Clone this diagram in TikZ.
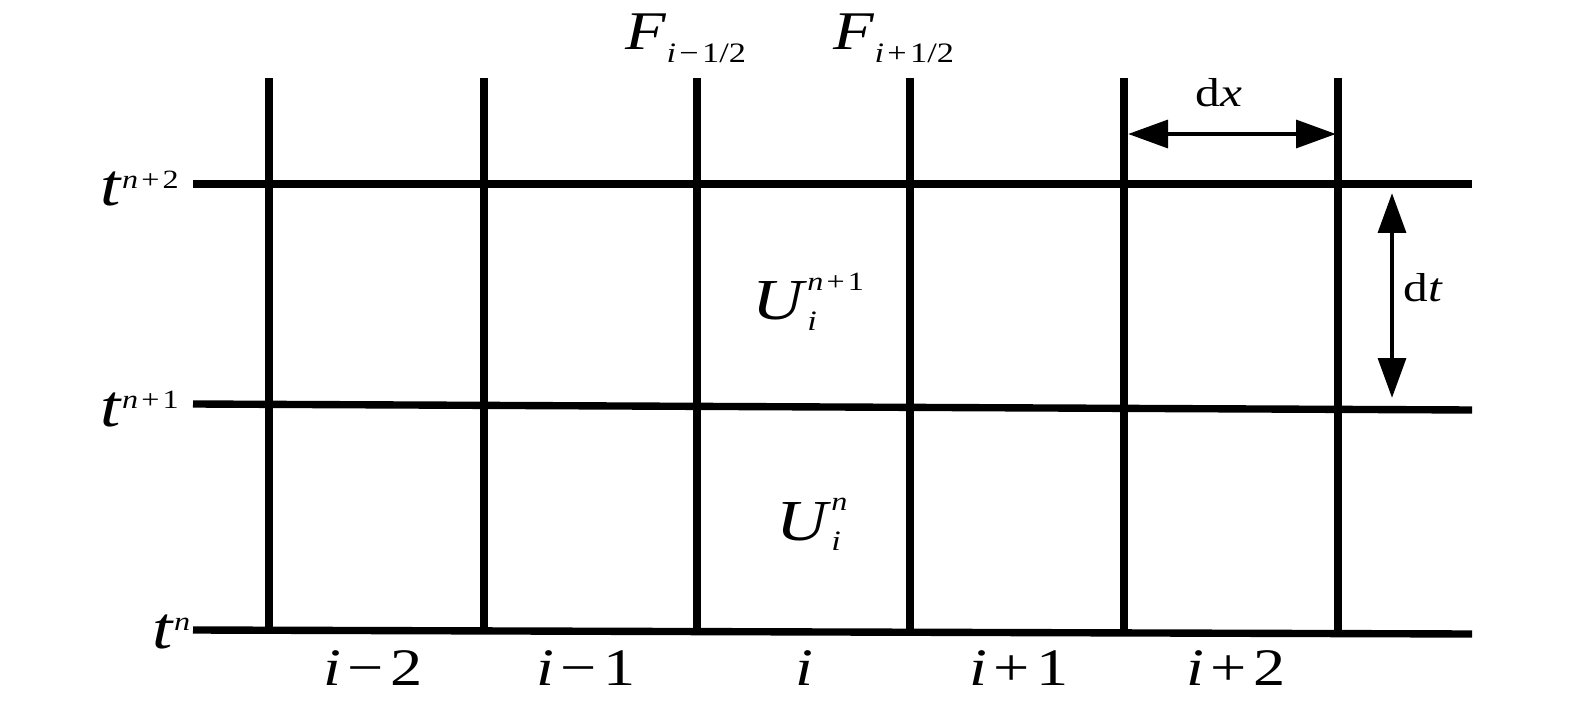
\documentclass[tikz,border=0pt]{standalone}
\usepackage{fontspec}
\setmainfont{Liberation Serif}[FakeStretch=1.22]
\usepackage{tikz}
\usetikzlibrary{
    arrows.meta,
    positioning,
    calc
}
\tikzset{
    gridline/.style={
        line width=4.2pt,
        black
    },
    dimarrow/.style={
        {Triangle[length=0.8cm,width=0.55cm]}-{Triangle[length=0.8cm,width=0.55cm]},
        line width=2.8pt
    },
    lab/.style={
        anchor=base west,
        inner sep=0pt,
        font=\fontsize{31}{33}\selectfont
    },
    ilab/.style={
        anchor=base,
        inner sep=0pt,
        font=\fontsize{30}{32}\selectfont
    },
    dlab/.style={
        anchor=base west,
        inner sep=0pt,
        font=\fontsize{23}{25}\selectfont
    }
}
\newcommand{\nsp}{\hspace{0.12em}}
\newcommand{\supscr}[2]{\raisebox{#1}{\fontsize{15}{15}\selectfont #2}}
\newcommand{\subscr}[2]{\raisebox{-#1}{\fontsize{16}{16}\selectfont #2}}

\begin{document}
\begin{tikzpicture}[x=0.02cm,y=-0.02cm]
\useasboundingbox (0,0) rectangle (1575,709);

% vertical cell edges
\foreach \k/\xx in {1/269,2/484,3/697,4/910,5/1124,6/1338} {
    \coordinate (top\k) at (\xx,78);
    \coordinate (bot\k) at (\xx,632);
    \draw[gridline] (top\k) -- (bot\k);
}

% time levels
\coordinate (h2l) at (193,184);
\coordinate (h2r) at (1472,184);
\coordinate (h1l) at (193,404);
\coordinate (h1r) at (1472,410);
\coordinate (h0l) at (193,630);
\coordinate (h0r) at (1472,634);
\draw[gridline] (h2l) -- (h2r);
\draw[gridline] (h1l) -- (h1r);
\draw[gridline] (h0l) -- (h0r);

% spacing arrows
\coordinate (dxl) at (1128,134);
\coordinate (dxr) at (1336,134);
\coordinate (dtt) at (1392,193);
\coordinate (dtb) at (1392,398);
\draw[dimarrow] (dxl) -- (dxr);
\draw[dimarrow] (dtt) -- (dtb);
\node[dlab] (dx) at (1195,107) {d\textit{x}};
\node[dlab] (dt) at (1403,302) {d\textit{t}};

% time levels labels
\node[lab] (tn2) at (100,206) {{\fontsize{34}{34}\selectfont\textit{t}}\supscr{10pt}{\textit{n}\nsp+\nsp2}};
\node[lab] (tn1) at (100,426) {{\fontsize{34}{34}\selectfont\textit{t}}\supscr{10pt}{\textit{n}\nsp+\nsp1}};
\node[lab] (tn0) at (152,648) {{\fontsize{34}{34}\selectfont\textit{t}}\supscr{10pt}{\textit{n}}};

% cell indices
\node[ilab] (c1) at (373,685) {\textit{i}\nsp−\nsp2};
\node[ilab] (c2) at (586,685) {\textit{i}\nsp−\nsp1};
\node[ilab] (c3) at (804,685) {\textit{i}};
\node[ilab] (c4) at (1019,685) {\textit{i}\nsp+\nsp1};
\node[ilab] (c5) at (1236,685) {\textit{i}\nsp+\nsp2};

% fluxes
\node[lab] (fl) at (625,50) {\textit{F}\subscr{7pt}{\textit{i}\nsp−\nsp1/2}};
\node[lab] (fr) at (833,50) {\textit{F}\subscr{7pt}{\textit{i}\nsp+\nsp1/2}};

% cell values
\node[lab] (u1) at (752,320) {{\fontsize{33}{33}\selectfont\textit{U}}\rlap{\supscr{17pt}{\textit{n}\nsp+\nsp1}}\subscr{5.7pt}{\textit{i}}};
\node[lab] (u0) at (776,540) {{\fontsize{33}{33}\selectfont\textit{U}}\rlap{\supscr{17pt}{\textit{n}}}\subscr{5.7pt}{\textit{i}}};

\end{tikzpicture}
\end{document}
